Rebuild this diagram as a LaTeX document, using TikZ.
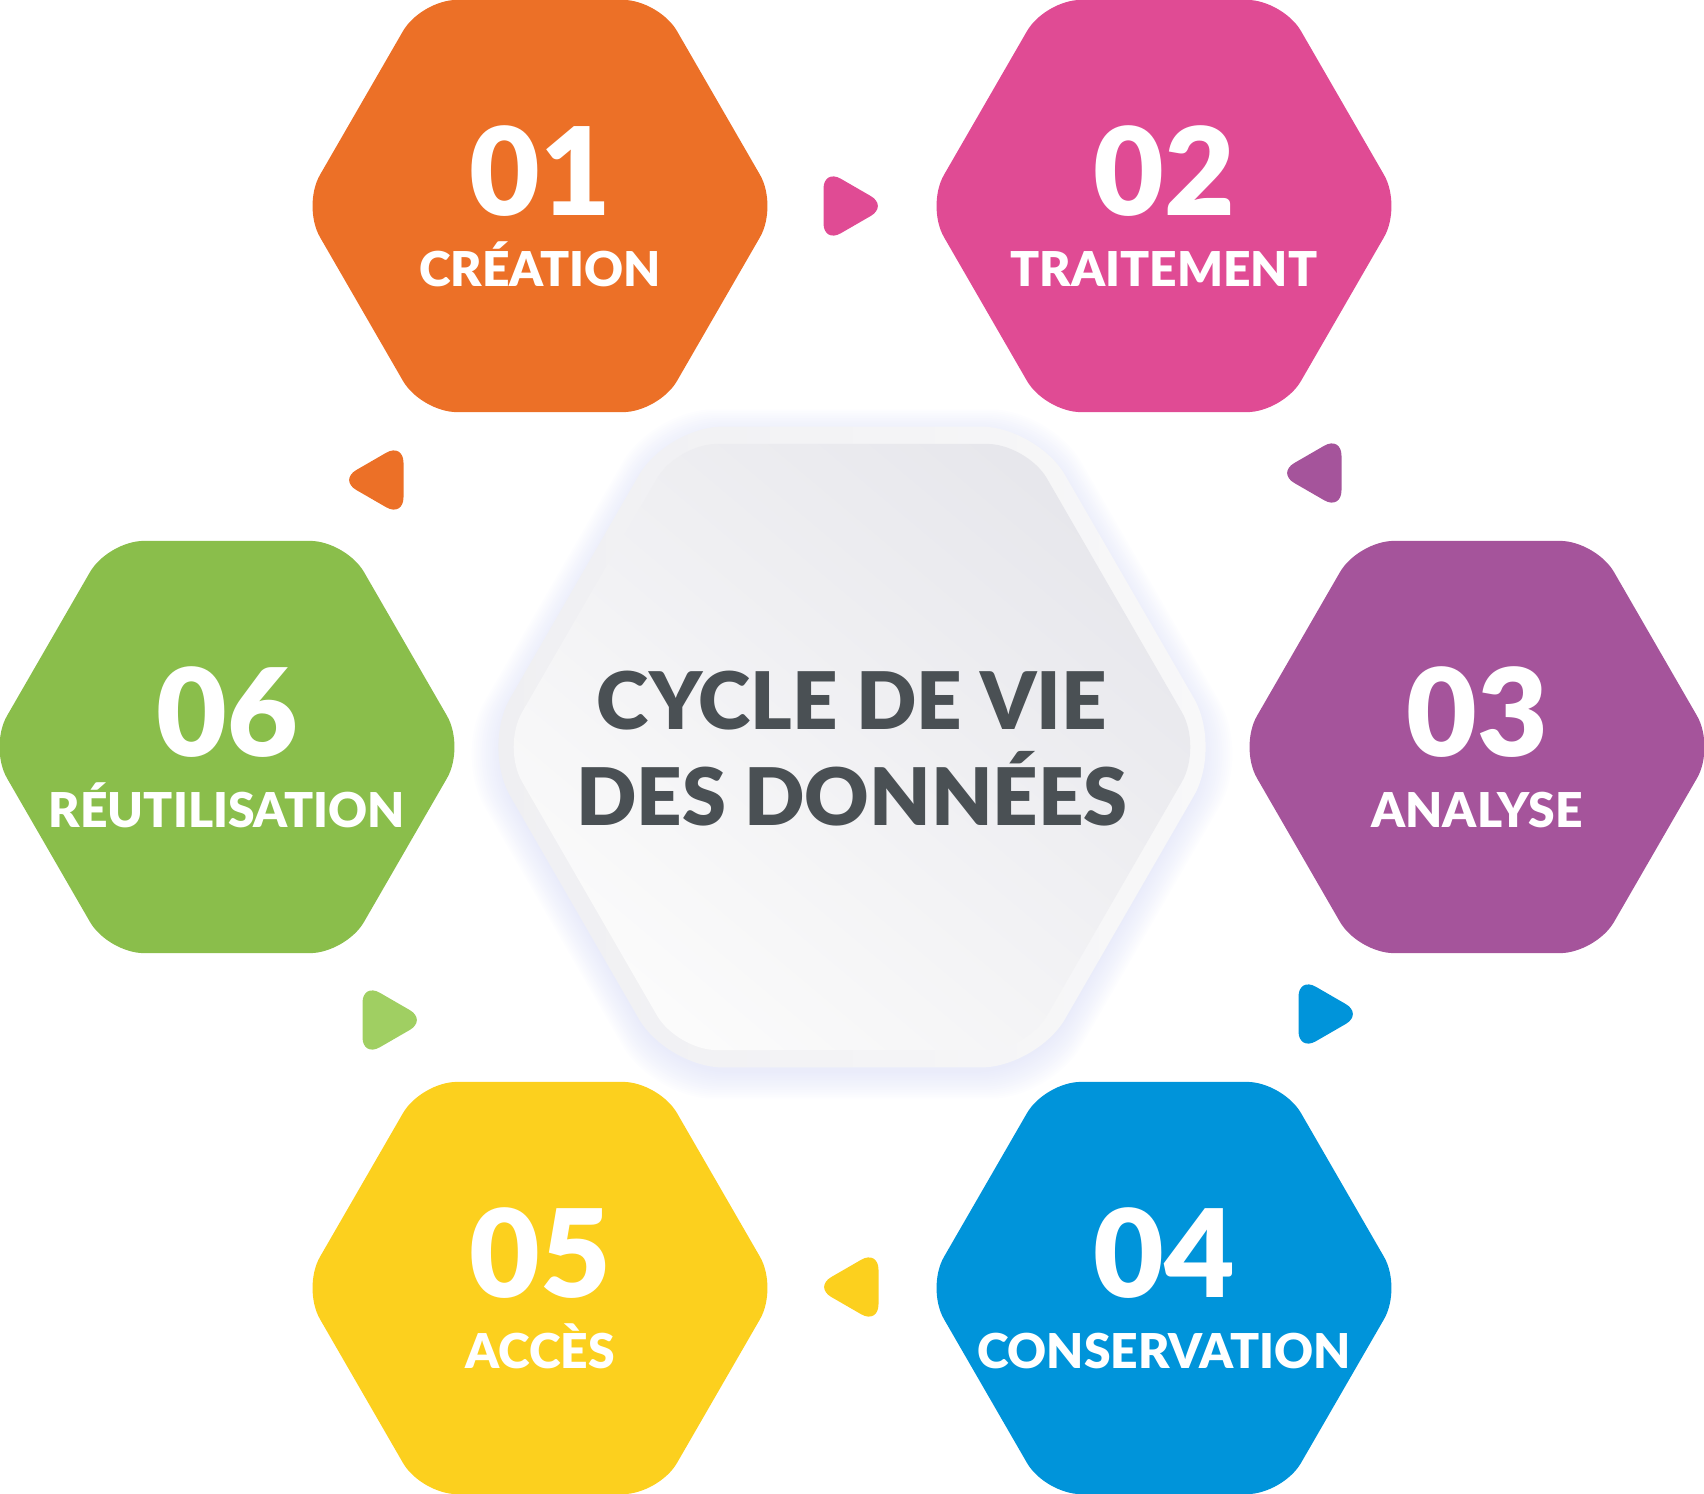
\documentclass[tikz,border=0pt]{standalone}
\usepackage{fontspec}
\setmainfont{Lato}
\newfontfamily\blackfont{Lato Black}
\usetikzlibrary{shapes.geometric}

\definecolor{creaC}{HTML}{EC7027}
\definecolor{traiC}{HTML}{E04B94}
\definecolor{anaC}{HTML}{A5549B}
\definecolor{consC}{HTML}{0094DA}
\definecolor{accC}{HTML}{FCD01E}
\definecolor{reuC}{HTML}{8ABE4B}
\definecolor{reuL}{HTML}{A0CF62}
\definecolor{titleC}{HTML}{4A5054}
\definecolor{glowC}{HTML}{D5DAF6}
\definecolor{innerTop}{HTML}{E7E7EC}
\definecolor{innerBot}{HTML}{FBFBFB}
\definecolor{ringL}{HTML}{EFEFF2}
\definecolor{ringR}{HTML}{F8F8F9}

\tikzset{
  hexa/.style={regular polygon, regular polygon sides=6, minimum size=238pt,
    inner sep=0pt, rounded corners=18pt, fill=#1},
  num/.style={anchor=base, text=white, inner sep=0pt,
    font=\blackfont\fontsize{61}{61}\selectfont},
  lbl/.style={anchor=base, text=white, inner sep=0pt,
    font=\blackfont\fontsize{24}{24}\selectfont},
  tri/.style={regular polygon, regular polygon sides=3, minimum size=43pt,
    inner sep=0pt, rounded corners=10pt, fill=#1},
  title/.style={anchor=base, text=titleC, inner sep=0pt,
    font=\blackfont\fontsize{39.7}{48}\selectfont},
}

\begin{document}
\begin{tikzpicture}[x=0.5pt, y=-0.5pt]
  \useasboundingbox (0,0) rectangle (1704,1494);

  % glow round the centre
  \foreach \i in {1,...,16}
    \node[regular polygon, regular polygon sides=6, minimum size={366pt+2pt*\i},
      inner sep=0pt, rounded corners=30pt, fill=glowC, fill opacity=0.045]
      at (852,754) {};

  \node[regular polygon, regular polygon sides=6, minimum size=370pt, inner sep=0pt,
    rounded corners=28pt, left color=ringL, right color=ringR] (hring) at (852,747) {};
  \node[regular polygon, regular polygon sides=6, minimum size=350pt, inner sep=0pt,
    rounded corners=20pt, shade, top color=innerTop, bottom color=innerBot,
    shading angle=-40] (hc) at (852,747) {};
  \node[title] (t1) at ([yshift=9pt]hc) {CYCLE DE VIE};
  \node[title] (t2) at ([yshift=-39pt]hc) {DES DONNÉES};

  % the six steps
  \node[hexa=creaC] (h1) at (540,206) {};
  \node[hexa=traiC] (h2) at (1164,206) {};
  \node[hexa=anaC] (h3) at (1477,747) {};
  \node[hexa=consC] (h4) at (1164,1288) {};
  \node[hexa=accC] (h5) at (540,1288) {};
  \node[hexa=reuC] (h6) at (227,747) {};

  \node[num] (n1) at ([yshift=-4.5pt]h1) {01};
  \node[lbl] (l1) at ([yshift=-40pt]h1) {CRÉATION};
  \node[num] (n2) at ([yshift=-4.5pt]h2) {02};
  \node[lbl] (l2) at ([yshift=-40pt]h2) {TRAITEMENT};
  \node[num] (n3) at ([yshift=-4.5pt]h3) {03};
  \node[lbl] (l3) at ([yshift=-40pt]h3) {ANALYSE};
  \node[num] (n4) at ([yshift=-4.5pt]h4) {04};
  \node[lbl] (l4) at ([yshift=-40pt]h4) {CONSERVATION};
  \node[num] (n5) at ([yshift=-4.5pt]h5) {05};
  \node[lbl] (l5) at ([yshift=-40pt]h5) {ACCÈS};
  \node[num] (n6) at ([yshift=-4.5pt]h6) {06};
  \node[lbl] (l6) at ([yshift=-40pt]h6) {RÉUTILISATION};

  % small arrows between steps
  \node[tri=traiC, shape border rotate=-90] (a12) at (845,206) {};
  \node[tri=anaC, shape border rotate=90] (a23) at (1320,473) {};
  \node[tri=consC, shape border rotate=-90] (a34) at (1320,1014) {};
  \node[tri=accC, shape border rotate=90] (a45) at (857,1287) {};
  \node[tri=reuL, shape border rotate=-90] (a56) at (384,1020) {};
  \node[tri=creaC, shape border rotate=90] (a61) at (382,480) {};
\end{tikzpicture}
\end{document}
